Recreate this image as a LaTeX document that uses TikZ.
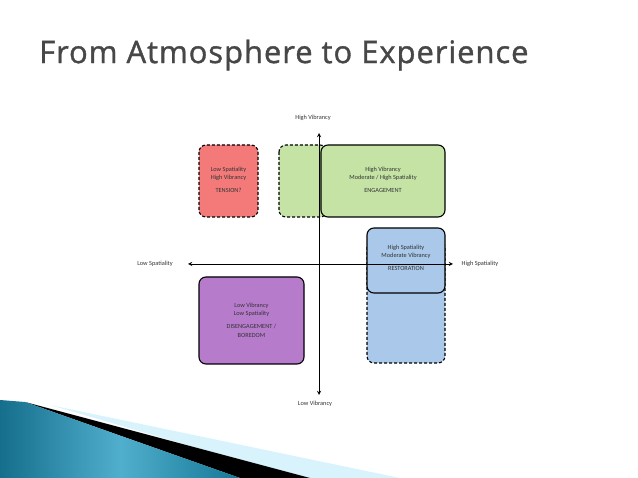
\documentclass[tikz,border=0pt]{standalone}
\usepackage{fontspec}
\setmainfont{Carlito}
\newfontfamily\titlefont[FakeBold=1.2,LetterSpace=3]{Open Sans}
\begin{document}
\begin{tikzpicture}[x=1pt,y=-1pt,
  box/.style={draw=black,line width=1.1pt,rounded corners=7pt},
  dbox/.style={box,dashed,dash pattern=on 3pt off 2pt},
  lbl/.style={font=\fontsize{6.3}{8.3}\selectfont,align=center,text=black!80},
  ax/.style={line width=0.9pt,<->,>=stealth}]
\useasboundingbox (0,0) rectangle (638,478);
\node[font=\titlefont\fontsize{31}{34}\selectfont,text=black!72,anchor=west,inner sep=0pt] (title) at (39,55) {From Atmosphere to Experience};
% bottom decoration
\fill[cyan!15!white] (50,405) -- (400,478) -- (300,478) -- cycle;
\fill[black] (25,402) -- (310,478) -- (240,478) -- cycle;
\shade[left color={rgb,255:red,20;green,110;blue,140},right color={rgb,255:red,20;green,120;blue,150},middle color={rgb,255:red,80;green,175;blue,205}] (0,400) -- (25,402) -- (240,478) -- (0,478) -- cycle;
% boxes
\draw[dbox,fill={rgb,255:red,196;green,227;blue,165}] (279,145) rectangle (327,217);
\draw[dbox,fill={rgb,255:red,169;green,200;blue,234}] (367,240) rectangle (445,363);
\draw[dbox,fill={rgb,255:red,244;green,122;blue,122}] (199,145) rectangle (258,217);
\node[lbl] (t) at (228.5,180) {Low Spatiality\\High Vibrancy\\[5pt]TENSION?};
\draw[box,fill={rgb,255:red,196;green,227;blue,165}] (321,145) rectangle (445,217);
\node[lbl] (e) at (383,180) {High Vibrancy\\Moderate / High Spatiality\\[5pt]ENGAGEMENT};
\draw[box,fill={rgb,255:red,169;green,200;blue,234}] (367,228) rectangle (445,293);
\node[lbl] (r) at (406,258) {High Spatiality\\Moderate Vibrancy\\[5pt]RESTORATION};
\draw[box,fill={rgb,255:red,183;green,123;blue,204}] (199,277) rectangle (304,364);
\node[lbl] (d) at (251.5,320) {Low Vibrancy\\Low Spatiality\\[5pt]DISENGAGEMENT /\\BOREDOM};
% axes
\node[lbl] (hv) at (313,118) {High Vibrancy};
\node[lbl] (lv) at (315,404) {Low Vibrancy};
\node[lbl] (ls) at (155,264) {Low Spatiality};
\node[lbl] (hs) at (480,264) {High Spatiality};
\coordinate (vt) at (319,133); \coordinate (vb) at (319,395);
\coordinate (hl) at (188,264); \coordinate (hr) at (453,264);
\draw[ax] (vt) -- (vb);
\draw[ax] (hl) -- (hr);
\end{tikzpicture}
\end{document}
